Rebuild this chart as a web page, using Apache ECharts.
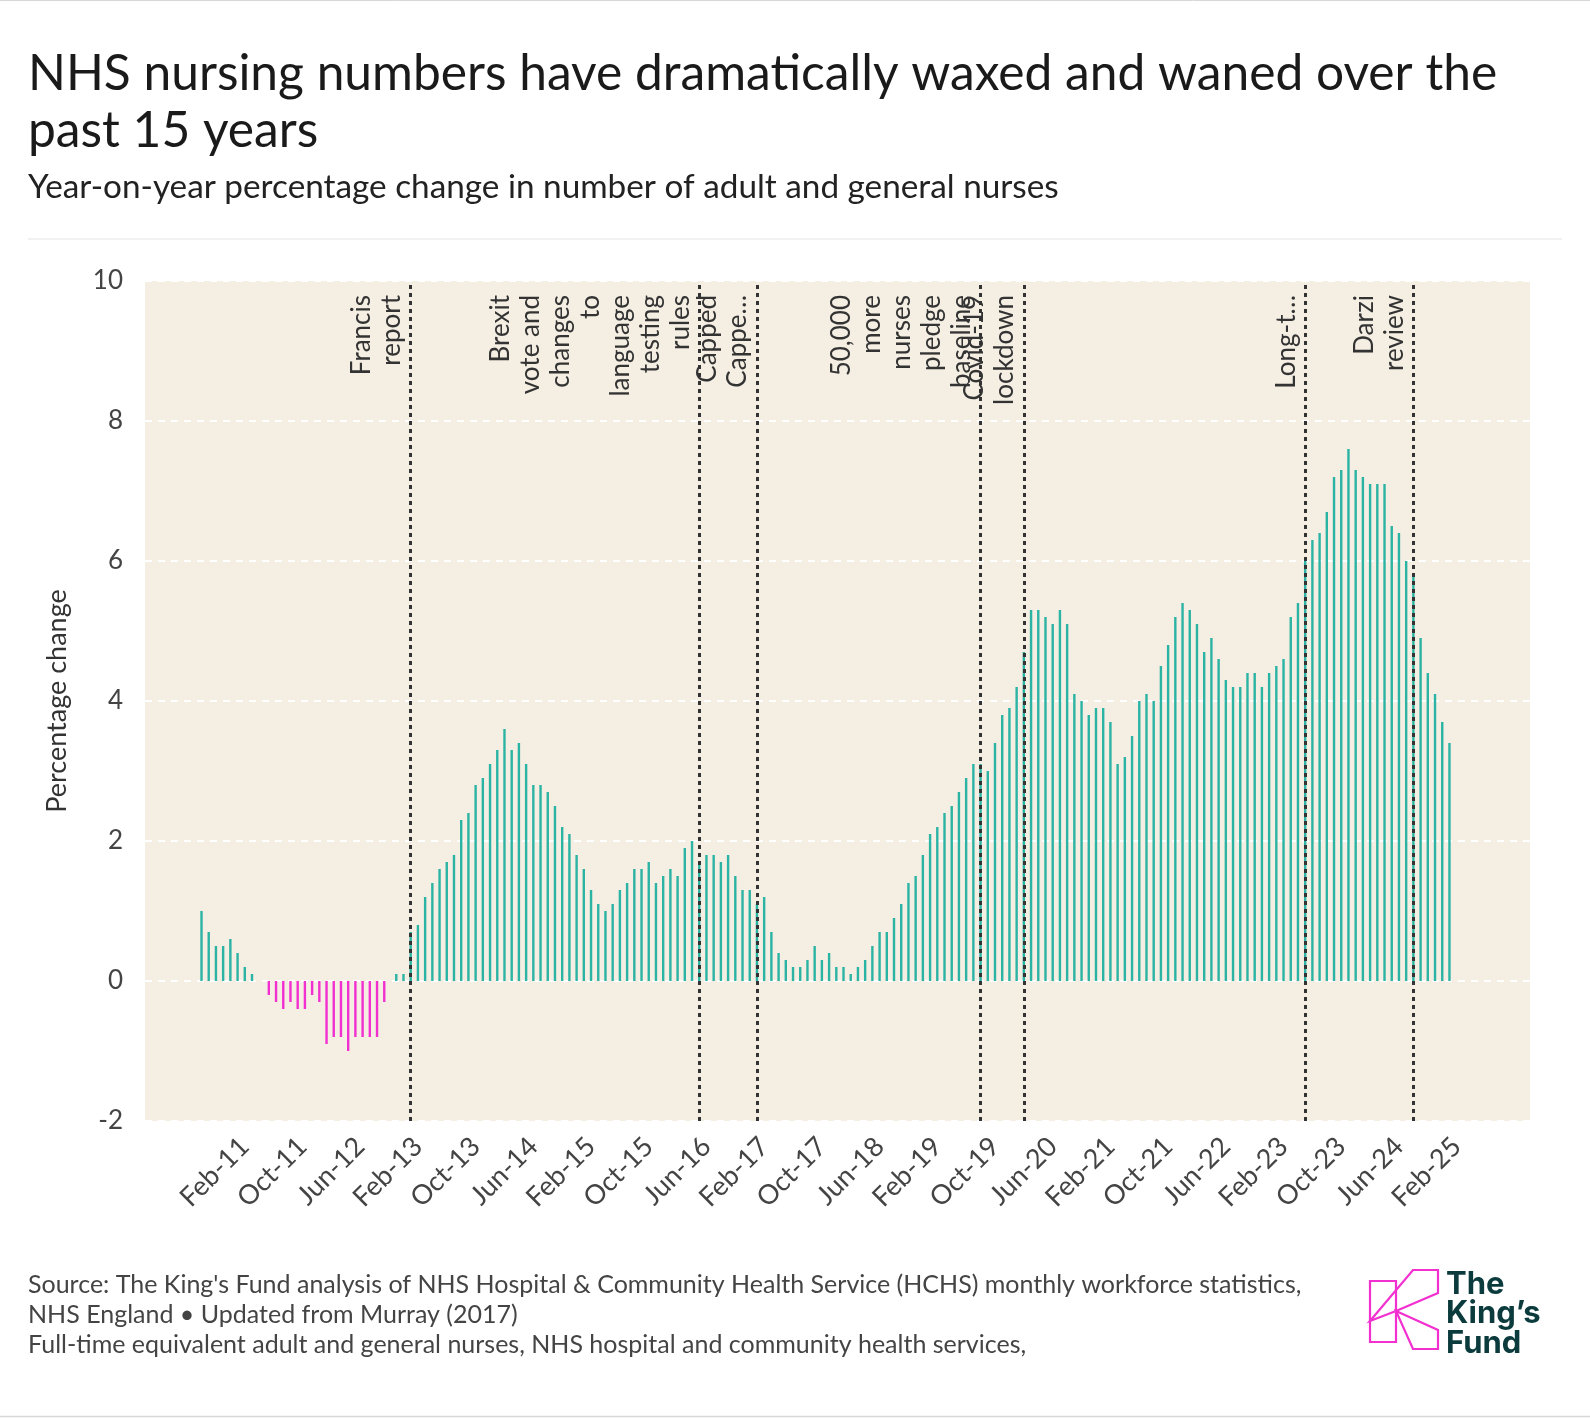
<!DOCTYPE html>
<html>
<head>
<meta charset="utf-8">
<title>NHS nursing numbers</title>
<script src="https://cdn.jsdelivr.net/npm/echarts@6/dist/echarts.min.js"></script>
<style>
  html, body { margin: 0; padding: 0; background: #fff; }
  #main { width: 1590px; height: 1418px; }
</style>
</head>
<body>
<div id="main"></div>
<script>
// year-on-year % change in FTE adult and general nurses, one value per month
// 2010 starts in September, 2025 stops in February
var chg2010 = [1.0, 0.7, 0.5, 0.5];
var chg2011 = [0.6, 0.4, 0.2, 0.1, 0, -0.2, -0.3, -0.4, -0.3, -0.4, -0.4, -0.2];
var chg2012 = [-0.3, -0.9, -0.8, -0.8, -1.0, -0.8, -0.8, -0.8, -0.8, -0.3, 0, 0.1];
var chg2013 = [0.1, 0.7, 0.8, 1.2, 1.4, 1.6, 1.7, 1.8, 2.3, 2.4, 2.8, 2.9];
var chg2014 = [3.1, 3.3, 3.6, 3.3, 3.4, 3.1, 2.8, 2.8, 2.7, 2.5, 2.2, 2.1];
var chg2015 = [1.8, 1.6, 1.3, 1.1, 1.0, 1.1, 1.3, 1.4, 1.6, 1.6, 1.7, 1.4];
var chg2016 = [1.5, 1.6, 1.5, 1.9, 2.0, 1.7, 1.8, 1.8, 1.7, 1.8, 1.5, 1.3];
var chg2017 = [1.3, 1.1, 1.2, 0.7, 0.4, 0.3, 0.2, 0.2, 0.3, 0.5, 0.3, 0.4];
var chg2018 = [0.2, 0.2, 0.1, 0.2, 0.3, 0.5, 0.7, 0.7, 0.9, 1.1, 1.4, 1.5];
var chg2019 = [1.8, 2.1, 2.2, 2.4, 2.5, 2.7, 2.9, 3.1, 3.1, 3.0, 3.4, 3.8];
var chg2020 = [3.9, 4.2, 4.7, 5.3, 5.3, 5.2, 5.1, 5.3, 5.1, 4.1, 4.0, 3.8];
var chg2021 = [3.9, 3.9, 3.7, 3.1, 3.2, 3.5, 4.0, 4.1, 4.0, 4.5, 4.8, 5.2];
var chg2022 = [5.4, 5.3, 5.1, 4.7, 4.9, 4.6, 4.3, 4.2, 4.2, 4.4, 4.4, 4.2];
var chg2023 = [4.4, 4.5, 4.6, 5.2, 5.4, 6.0, 6.3, 6.4, 6.7, 7.2, 7.3, 7.6];
var chg2024 = [7.3, 7.2, 7.1, 7.1, 7.1, 6.5, 6.4, 6.0, 5.8, 4.9, 4.4, 4.1];
var chg2025 = [3.7, 3.4];

var monthNames = ['Jan', 'Feb', 'Mar', 'Apr', 'May', 'Jun', 'Jul', 'Aug', 'Sep', 'Oct', 'Nov', 'Dec'];

var tickLabels = ['Feb-11', 'Oct-11', 'Jun-12', 'Feb-13', 'Oct-13', 'Jun-14', 'Feb-15', 'Oct-15',
  'Jun-16', 'Feb-17', 'Oct-17', 'Jun-18', 'Feb-19', 'Oct-19', 'Jun-20', 'Feb-21', 'Oct-21',
  'Jun-22', 'Feb-23', 'Oct-23', 'Jun-24', 'Feb-25'];

var events = [
  ['Feb-13', 'Francis\nreport'],
  ['Jun-16', 'Brexit\nvote and\nchanges\nto\nlanguage\ntesting\nrules'],
  ['Feb-17', 'Capped\nCappe\u2026'],
  ['Sep-19', '50,000\nmore\nnurses\npledge\nbaseline'],
  ['Mar-20', 'Covid-19\nlockdown'],
  ['Jun-23', 'Long-t\u2026'],
  ['Sep-24', 'Darzi\nreview']
];

// axis runs Jan 2010 .. Jan 2026, data Sep 2010 .. Feb 2025
var months = [];
for (var y = 2010; y <= 2025; y++) {
  for (var m = 0; m < 12; m++) months.push(monthNames[m] + '-' + String(y).slice(2));
}
months.push('Jan-26');

var values = [].concat(chg2010, chg2011, chg2012, chg2013, chg2014, chg2015, chg2016, chg2017,
  chg2018, chg2019, chg2020, chg2021, chg2022, chg2023, chg2024, chg2025);
var startIdx = months.indexOf('Sep-10');
var rising = months.map(function () { return '-'; });
var falling = months.map(function () { return '-'; });
values.forEach(function (v, i) {
  if (v > 0) rising[startIdx + i] = v;
  if (v < 0) falling[startIdx + i] = v;
});

var font = 'Lato';
var myChart = echarts.init(document.getElementById('main'));

var option = {
  animation: false,
  backgroundColor: '#fff',
  textStyle: { fontFamily: font },
  title: [{
    text: 'NHS nursing numbers have dramatically waxed and waned over the\npast 15 years',
    left: 28,
    top: 45,
    padding: 0,
    textStyle: { fontFamily: font, fontWeight: 'normal', fontSize: 49.7, lineHeight: 57, color: '#1a1a1a' }
  }, {
    text: 'Year-on-year percentage change in number of adult and general nurses',
    left: 28,
    top: 171,
    padding: 0,
    textStyle: { fontFamily: font, fontWeight: 'normal', fontSize: 33.3, color: '#222' }
  }],
  grid: {
    left: 145, right: 60, top: 281, bottom: 297,
    show: true, backgroundColor: '#f4eee3', borderWidth: 0
  },
  xAxis: {
    type: 'category',
    data: months,
    boundaryGap: false,
    axisLine: { show: false },
    axisTick: { show: false },
    splitLine: { show: false },
    axisLabel: {
      rotate: 45,
      margin: 8,
      verticalAlign: 'top',
      padding: [0, 5, 0, 0],
      fontFamily: font,
      fontSize: 27,
      color: '#444',
      interval: function (idx, val) { return tickLabels.indexOf(val) >= 0; }
    }
  },
  yAxis: {
    type: 'value',
    min: -2, max: 10, interval: 2,
    name: 'Percentage change',
    nameLocation: 'middle',
    nameGap: 74,
    nameTextStyle: { fontFamily: font, fontSize: 27, color: '#333' },
    axisLine: { show: false },
    axisTick: { show: false },
    axisLabel: { fontFamily: font, fontSize: 26, color: '#444', margin: 22 },
    splitLine: { lineStyle: { color: '#fff', width: 2, type: [7, 6] } }
  },
  series: [{
    name: 'Increase',
    type: 'bar',
    data: rising,
    barWidth: 2.4,
    barGap: '0%',
    itemStyle: { color: '#2bb3a4' },
    markLine: {
      silent: true,
      symbol: 'none',
      lineStyle: { color: '#333', width: 3, type: [4, 4] },
      label: {
        position: 'insideEndTop',
        distance: [14, 4],
        fontFamily: font,
        fontSize: 26,
        lineHeight: 30,
        color: '#333'
      },
      data: events.map(function (e) {
        return { xAxis: e[0], label: { formatter: e[1] } };
      })
    }
  }, {
    name: 'Decrease',
    type: 'bar',
    data: falling,
    barWidth: 2.4,
    barGap: '0%',
    itemStyle: { color: '#f230d0' }
  }],
  graphic: [
    { type: 'line', shape: { x1: 0, y1: 0.5, x2: 1590, y2: 0.5 }, style: { stroke: '#d8d8d8', lineWidth: 1 } },
    { type: 'line', shape: { x1: 28, y1: 239, x2: 1562, y2: 239 }, style: { stroke: '#ececec', lineWidth: 1.5 } },
    { type: 'line', shape: { x1: 0, y1: 1416.5, x2: 1590, y2: 1416.5 }, style: { stroke: '#d8d8d8', lineWidth: 1.5 } },
    {
      type: 'text', left: 28, top: 1270,
      style: {
        text: 'Source: The King\'s Fund analysis of NHS Hospital & Community Health Service (HCHS) monthly workforce statistics,\nNHS England \u2022 Updated from Murray (2017)\nFull-time equivalent adult and general nurses, NHS hospital and community health services,',
        font: '25px Lato', fill: '#444', lineHeight: 30
      }
    },
    // logo
    {
      type: 'group',
      children: [
        { type: 'rect', shape: { x: 1370, y: 1281, width: 26, height: 61 }, style: { fill: 'none', stroke: '#f230d0', lineWidth: 2.2 } },
        { type: 'polygon', shape: { points: [[1413, 1270], [1438, 1270], [1438, 1293], [1396, 1311], [1370, 1321]] }, style: { fill: 'none', stroke: '#f230d0', lineWidth: 2.2 } },
        { type: 'polygon', shape: { points: [[1396, 1311], [1438, 1330], [1438, 1349], [1413, 1349]] }, style: { fill: 'none', stroke: '#f230d0', lineWidth: 2.2 } },
        {
          type: 'text', left: 1446, top: 1269,
          style: { text: 'The\nKing\u2019s\nFund', font: 'bold 31px Inter', fill: '#0b3b3c', lineHeight: 29.5 }
        }
      ]
    }
  ]
};

myChart.setOption(option);
</script>
</body>
</html>
